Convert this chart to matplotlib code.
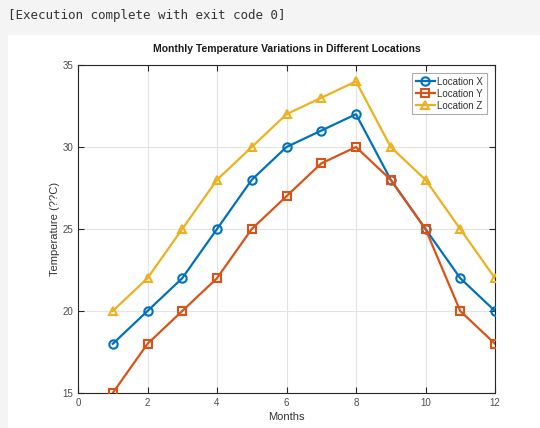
import matplotlib
matplotlib.use("Agg")
import matplotlib.pyplot as plt
from matplotlib.patches import Rectangle

months = [1, 2, 3, 4, 5, 6, 7, 8, 9, 10, 11, 12]
loc_x = [18, 20, 22, 25, 28, 30, 31, 32, 28, 25, 22, 20]
loc_y = [15, 18, 20, 22, 25, 27, 29, 30, 28, 25, 20, 18]
loc_z = [20, 22, 25, 28, 30, 32, 33, 34, 30, 28, 25, 22]
series_names = ["Location X", "Location Y", "Location Z"]
x_ticks = [0, 2, 4, 6, 8, 10, 12]
y_ticks = [15, 20, 25, 30, 35]

W, H = 540, 428
fig = plt.figure(figsize=(W / 100, H / 100), dpi=100)
fig.patch.set_facecolor("#f4f4f4")
bg = Rectangle((8 / W, 0), 1 - 8 / W, (H - 35) / H,
               transform=fig.transFigure, facecolor="white",
               edgecolor="none", zorder=-10)
fig.patches.append(bg)
fig.text(8 / W, 1 - 15 / H, "[Execution complete with exit code 0]",
         family="DejaVu Sans Mono", fontsize=9, color="#333333",
         va="center", ha="left")

left, right, top, bottom = 78, 495, 65, 393
ax = fig.add_axes([left / W, (H - bottom) / H, (right - left) / W, (bottom - top) / H])
ax.set_zorder(1)

font = ["Liberation Sans", "DejaVu Sans"]
styles = [("#0072BD", "o"), ("#D95319", "s"), ("#EDB120", "^")]
for vals, name, (c, m) in zip([loc_x, loc_y, loc_z], series_names, styles):
    ax.plot(months, vals, color=c, marker=m, lw=1.6, ms=6, 
            mfc="none", mew=1.5, label=name, zorder=3)

ax.set_xlim(0, 12)
ax.set_ylim(15, 35)
ax.set_xticks(x_ticks)
ax.set_yticks(y_ticks)
ax.grid(True, color="#e3e3e3", lw=0.8, zorder=0)
ax.tick_params(direction="in", top=True, right=True, length=4, width=0.8,
               colors="#262626", labelcolor="#4d4d4d", labelsize=7)
for lab in ax.get_xticklabels() + ax.get_yticklabels():
    lab.set_family(font)
for s in ax.spines.values():
    s.set_color("#262626")
    s.set_linewidth(0.8)

ax.set_title("Monthly Temperature Variations in Different Locations",
             fontsize=7.5, fontweight="bold", family=font, color="#1a1a1a", pad=9)
ax.set_xlabel("Months", fontsize=8, family=font, color="#333333", labelpad=3)
ax.set_ylabel("Temperature (??C)", fontsize=8, family=font, color="#333333", labelpad=2)

leg = ax.legend(loc="upper right", prop={"family": font, "size": 7},
                frameon=True, fancybox=False, edgecolor="#999999",
                handlelength=1.9, borderpad=0.4, labelspacing=0.2,
                handletextpad=0.3, borderaxespad=0.8)
leg.get_frame().set_linewidth(0.8)
for t in leg.get_texts():
    t.set_color("#333333")

fig.savefig("out.png", dpi=100)
